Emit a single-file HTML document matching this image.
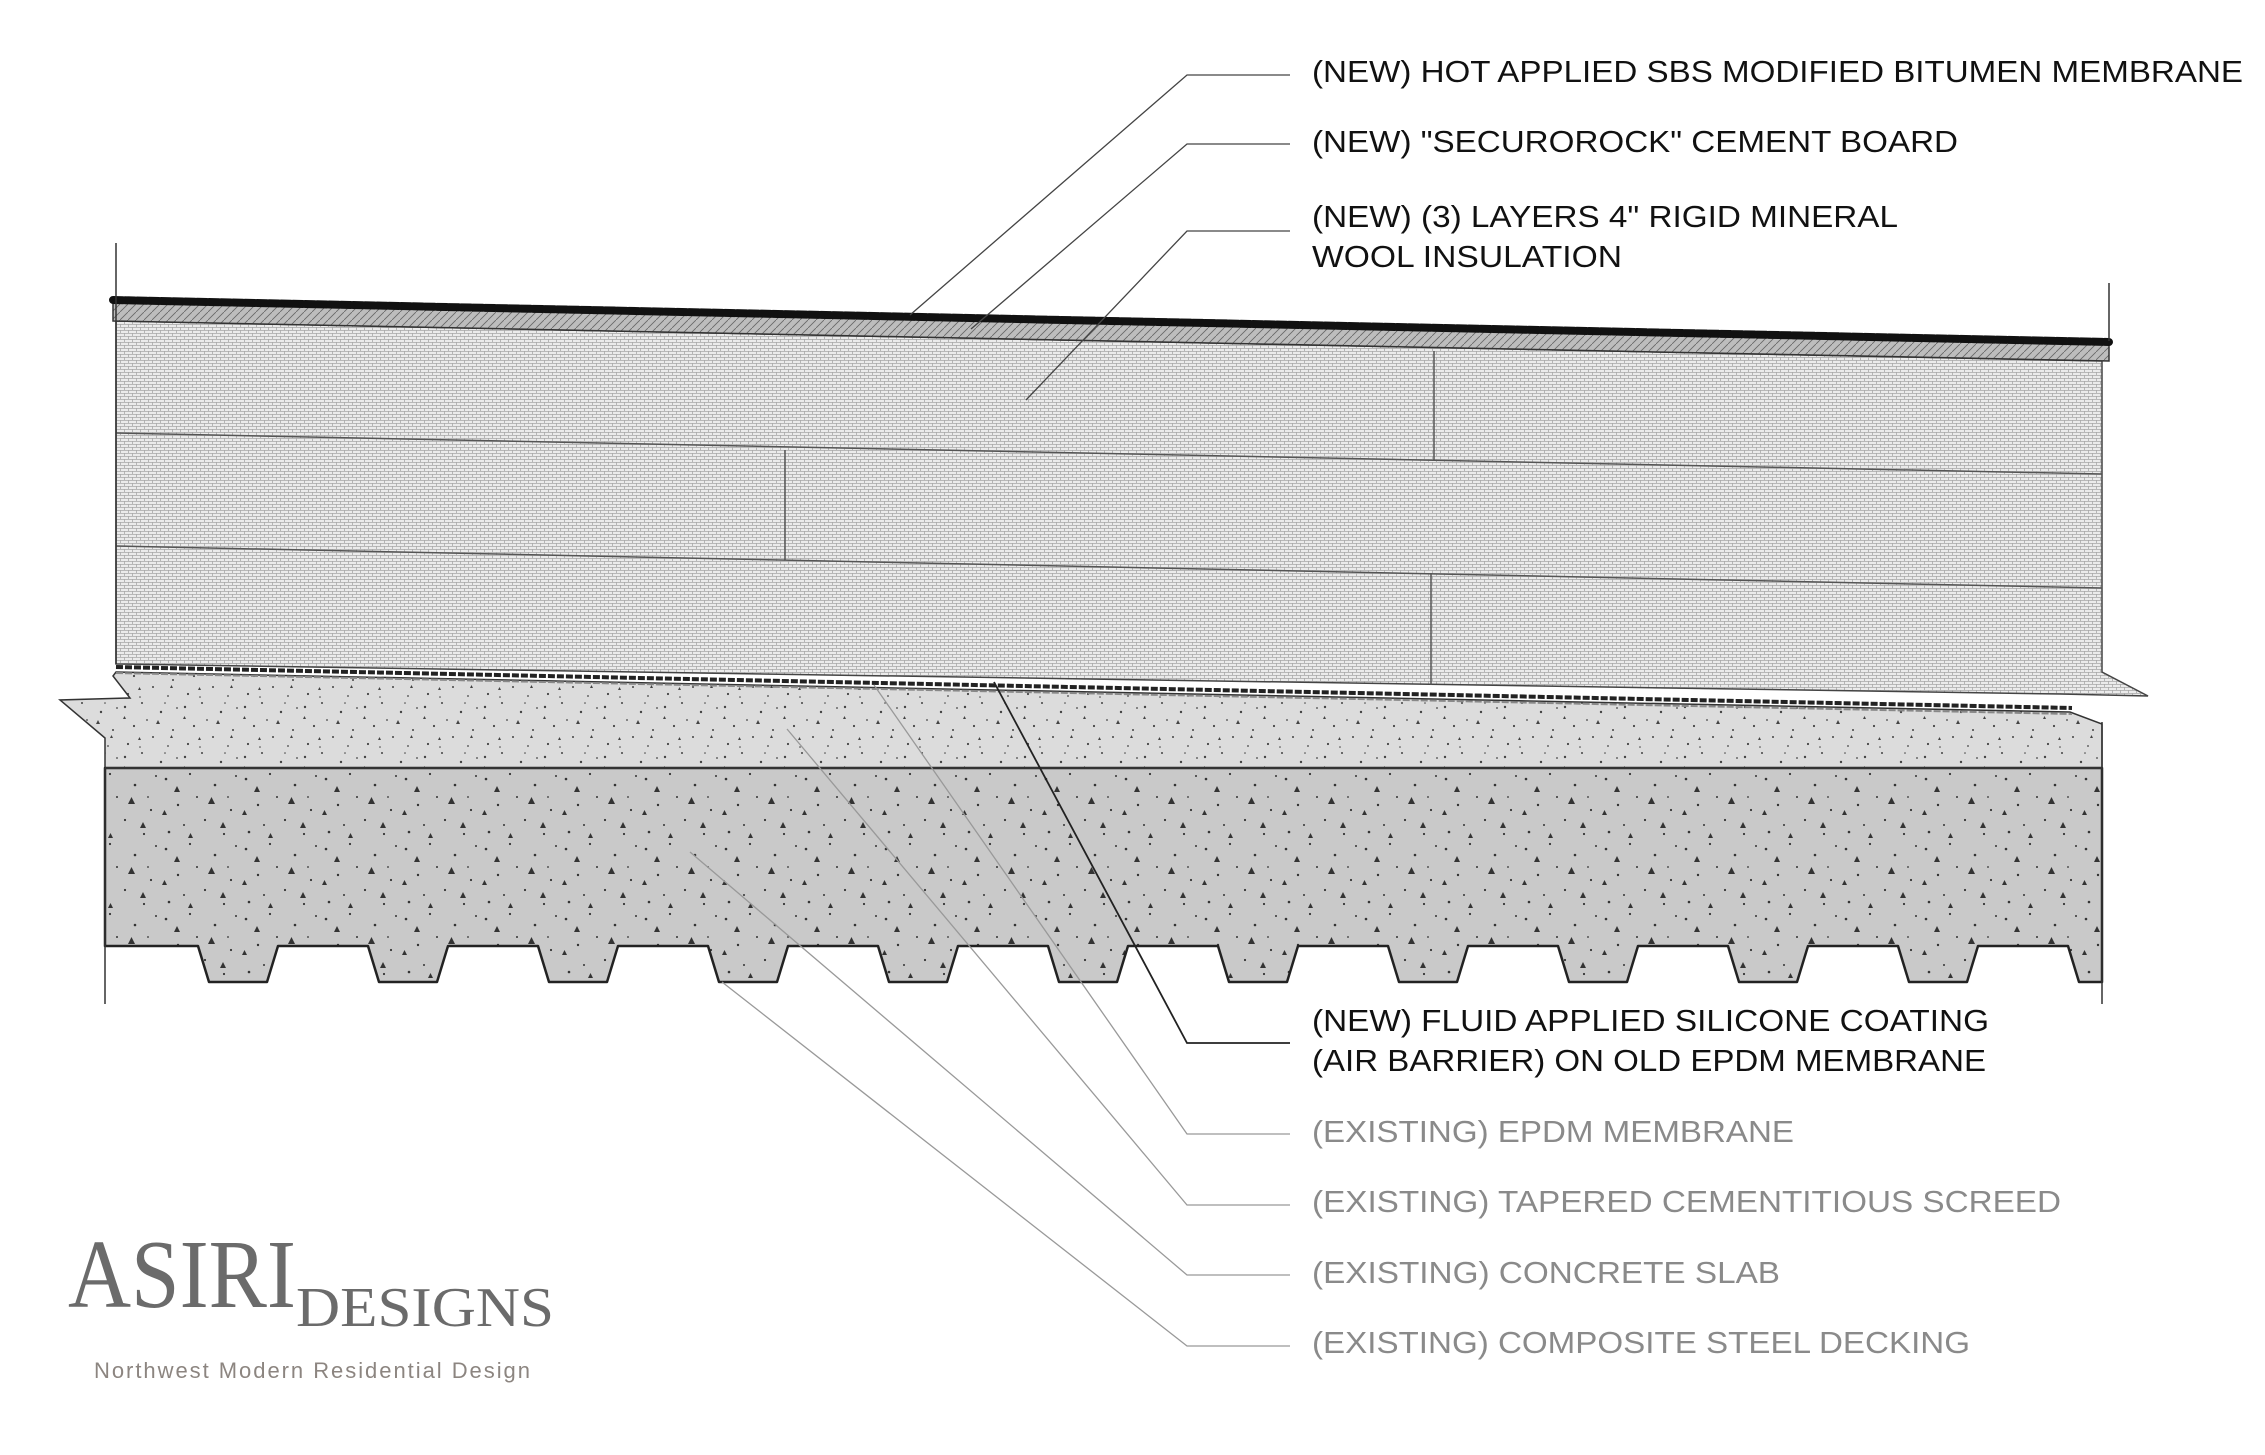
<!DOCTYPE html>
<html><head><meta charset="utf-8"><style>
html,body{margin:0;padding:0;background:#fff;}
svg{display:block}
</style></head><body>
<svg width="2265" height="1455" viewBox="0 0 2265 1455" xmlns="http://www.w3.org/2000/svg">
<defs>
<pattern id="grid" width="8" height="6" patternUnits="userSpaceOnUse">
<rect width="8" height="6" fill="#ebebeb"/>
<path d="M0 0.5H8M0.5 0V3M4.5 3V6M0 3.5H8" stroke="#a8a8a8" stroke-width="0.8" fill="none"/>
</pattern>
<pattern id="hatch" width="8" height="8" patternUnits="userSpaceOnUse">
<rect width="8" height="8" fill="#bdbdbd"/>
<path d="M0 8L8 0" stroke="#666" stroke-width="0.8"/>
</pattern>
<pattern id="sand" width="60" height="50" patternUnits="userSpaceOnUse">
<rect width="60" height="50" fill="#dcdcdc"/>
<g fill="#444">
<circle cx="5" cy="7" r="1.2"/><circle cx="22" cy="3" r="1"/><circle cx="41" cy="12" r="1.2"/><circle cx="53" cy="30" r="1"/><circle cx="14" cy="26" r="1.1"/><circle cx="33" cy="37" r="1"/><circle cx="8" cy="44" r="1.1"/><circle cx="48" cy="46" r="0.9"/><circle cx="27" cy="20" r="0.9"/><circle cx="57" cy="8" r="0.9"/><circle cx="45" cy="3" r="0.8"/><circle cx="20" cy="47" r="0.8"/>
<path d="M36 24l2 -4 2 4z"/><path d="M18 40l1.5 -3 1.5 3z"/><path d="M3 19l1.5 -3 1.5 3z"/><path d="M50 38l1.5 -3 1.5 3z"/>
</g>
</pattern>
<pattern id="conc" width="80" height="70" patternUnits="userSpaceOnUse">
<rect width="80" height="70" fill="#c9c9c9"/>
<g fill="#333">
<circle cx="6" cy="9" r="1.3"/><circle cx="30" cy="4" r="1.1"/><circle cx="55" cy="15" r="1.3"/><circle cx="71" cy="40" r="1.1"/><circle cx="18" cy="35" r="1.2"/><circle cx="45" cy="50" r="1.1"/><circle cx="9" cy="62" r="1.3"/><circle cx="64" cy="64" r="1.1"/><circle cx="37" cy="27" r="1"/><circle cx="76" cy="6" r="1"/><circle cx="24" cy="55" r="1"/><circle cx="68" cy="27" r="0.9"/>
<path d="M48 34l3.5 -7 3.5 7z"/><path d="M14 22l3 -6 3 6z"/><path d="M60 58l3 -6 3 6z"/><path d="M28 68l2.5 -5 2.5 5z"/><path d="M2 45l2.5 -5 2.5 5z"/>
</g>
</pattern>
</defs>

<!-- insulation -->
<polygon points="116,321 2102,361 2102,672 2148,696 2060,694 116,664" fill="url(#grid)" stroke="#444" stroke-width="1.5"/>
<g stroke="#555" stroke-width="1.5">
<line x1="116" y1="433" x2="2102" y2="474"/>
<line x1="116" y1="546" x2="2102" y2="588"/>
<line x1="1434" y1="351" x2="1434" y2="460"/>
<line x1="785" y1="450" x2="785" y2="560"/>
<line x1="1431" y1="573" x2="1431" y2="685"/>
</g>
<!-- cement board -->
<polygon points="113,302 2109,344 2109,361 113,321" fill="url(#hatch)" stroke="#333" stroke-width="1.5"/>
<!-- membrane -->
<line x1="113" y1="300" x2="2109" y2="342" stroke="#111" stroke-width="8" stroke-dasharray="10 2" stroke-linecap="round"/>
<!-- screed -->
<polygon points="116,672 2070,712 2102,724 2102,768 105,768 105,738 60,700 130,698 113,676" fill="url(#sand)" stroke="#333" stroke-width="1.5"/>
<!-- coating -->
<line x1="116" y1="667" x2="2072" y2="708" stroke="#222" stroke-width="4" stroke-dasharray="7 2"/>
<line x1="116" y1="673" x2="2072" y2="714" stroke="#888" stroke-width="2" stroke-dasharray="7 2"/>
<!-- slab -->
<path d="M105,768 L2102,768 L2102,982 L2079,982 L2068,946 L1978,946 L1967,982 L1909,982 L1898,946 L1808,946 L1797,982 L1739,982 L1728,946 L1638,946 L1627,982 L1569,982 L1558,946 L1468,946 L1457,982 L1399,982 L1388,946 L1298,946 L1287,982 L1229,982 L1218,946 L1128,946 L1117,982 L1059,982 L1048,946 L958,946 L947,982 L889,982 L878,946 L788,946 L777,982 L719,982 L708,946 L618,946 L607,982 L549,982 L538,946 L448,946 L437,982 L379,982 L368,946 L278,946 L267,982 L209,982 L198,946 L105,946 Z" fill="url(#conc)" stroke="#222" stroke-width="2.5" stroke-linejoin="round"/>
<line x1="105" y1="768" x2="2102" y2="768" stroke="#333" stroke-width="2"/>
<!-- walls -->
<g stroke="#333" stroke-width="1.5">
<line x1="116" y1="243" x2="116" y2="664"/>
<line x1="105" y1="768" x2="105" y2="1004"/>
<line x1="2109" y1="283" x2="2109" y2="341"/>
<line x1="2102" y1="722" x2="2102" y2="1004"/>
</g>
<!-- leaders -->
<g fill="none" stroke-width="1.3">
<polyline points="1290,75 1187,75 910,315" stroke="#444"/>
<polyline points="1290,144 1187,144 971,329" stroke="#444"/>
<polyline points="1290,231 1187,231 1026,400" stroke="#444"/>
<polyline points="1290,1043 1187,1043 994,682" stroke="#222" stroke-width="1.8"/>
<polyline points="1290,1134 1187,1134 874,685" stroke="#999"/>
<polyline points="1290,1205 1187,1205 787,729" stroke="#999"/>
<polyline points="1290,1275 1187,1275 690,852" stroke="#999"/>
<polyline points="1290,1346 1187,1346 722,982" stroke="#999"/>
</g>
<!-- labels -->
<g font-family="Liberation Sans, Arial, sans-serif" font-size="31">
<text x="1312" y="82" fill="#111" textLength="931" lengthAdjust="spacingAndGlyphs">(NEW) HOT APPLIED SBS MODIFIED BITUMEN MEMBRANE</text>
<text x="1312" y="152" fill="#111" textLength="646" lengthAdjust="spacingAndGlyphs">(NEW) "SECUROROCK" CEMENT BOARD</text>
<text x="1312" y="227" fill="#111" textLength="586" lengthAdjust="spacingAndGlyphs">(NEW) (3) LAYERS 4" RIGID MINERAL</text>
<text x="1312" y="267" fill="#111" textLength="310" lengthAdjust="spacingAndGlyphs">WOOL INSULATION</text>
<text x="1312" y="1031" fill="#111" textLength="677" lengthAdjust="spacingAndGlyphs">(NEW) FLUID APPLIED SILICONE COATING</text>
<text x="1312" y="1071" fill="#111" textLength="674" lengthAdjust="spacingAndGlyphs">(AIR BARRIER) ON OLD EPDM MEMBRANE</text>
<text x="1312" y="1142" fill="#8a8a8a" textLength="482" lengthAdjust="spacingAndGlyphs">(EXISTING) EPDM MEMBRANE</text>
<text x="1312" y="1212" fill="#8a8a8a" textLength="749" lengthAdjust="spacingAndGlyphs">(EXISTING) TAPERED CEMENTITIOUS SCREED</text>
<text x="1312" y="1283" fill="#8a8a8a" textLength="468" lengthAdjust="spacingAndGlyphs">(EXISTING) CONCRETE SLAB</text>
<text x="1312" y="1353" fill="#8a8a8a" textLength="658" lengthAdjust="spacingAndGlyphs">(EXISTING) COMPOSITE STEEL DECKING</text>
</g>
<!-- logo -->
<g fill="#6b6b6b" font-family="Liberation Serif, serif">
<text x="68" y="1307" font-size="98" textLength="228" lengthAdjust="spacingAndGlyphs">ASIRI</text>
<text x="296" y="1326" font-size="56" textLength="258" lengthAdjust="spacingAndGlyphs">DESIGNS</text>
</g>
<text x="94" y="1378" font-family="Liberation Sans, sans-serif" font-size="22" fill="#8c8580" textLength="436" lengthAdjust="spacing">Northwest  Modern  Residential  Design</text>
</svg>
</body></html>
